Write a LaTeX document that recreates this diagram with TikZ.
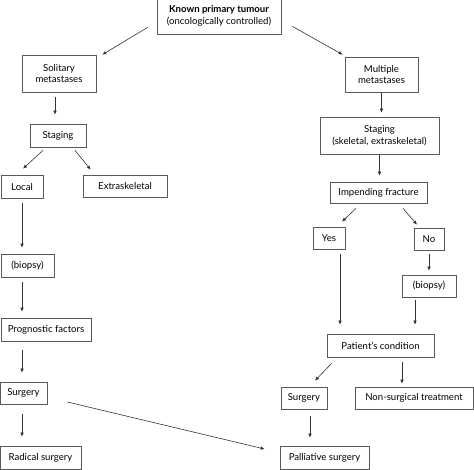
\documentclass[tikz,border=0pt]{standalone}
\usepackage{fontspec}
\setmainfont{Lato}
\usetikzlibrary{arrows.meta}

\begin{document}
\begin{tikzpicture}[x=1pt, y=-1pt,
    box/.style={draw=black!65, line width=0.7pt, align=center, inner sep=0pt, font=\fontsize{9.6}{11.5}\selectfont},
    arr/.style={-{Latex[length=4pt, width=3.6pt]}, line width=0.6pt, draw=black!80, shorten <=5pt, shorten >=6pt},
    slant/.style={arr, shorten <=0pt, shorten >=0pt}
]
\useasboundingbox (0,0) rectangle (474,469);
% top
\node[box, minimum width=124pt, minimum height=36pt] (known) at (219,16) {\textbf{Known primary tumour}\\(oncologically controlled)};
% solitary branch
\node[box, minimum width=74pt, minimum height=37pt] (sol) at (59,73.5) {Solitary\\metastases};
\node[box, minimum width=56pt, minimum height=23pt] (stagL) at (58,135.5) {Staging};
\node[box, minimum width=42pt, minimum height=23pt] (local) at (22,186.5) {Local};
\node[box, minimum width=84pt, minimum height=22pt] (extra) at (125,186) {Extraskeletal};
\node[box, minimum width=53pt, minimum height=23pt] (biopL) at (27.5,265.5) {(biopsy)};
\node[box, minimum width=90pt, minimum height=23pt] (prog) at (46,329.5) {Prognostic factors};
\node[box, minimum width=47pt, minimum height=22pt] (surgL) at (23.5,393) {Surgery};
\node[box, minimum width=81pt, minimum height=23pt] (rad) at (40.5,457.5) {Radical surgery};
% multiple branch
\node[box, minimum width=73pt, minimum height=35pt] (mult) at (381.5,74.5) {Multiple\\metastases};
\node[box, minimum width=119pt, minimum height=37pt] (stagR) at (379.5,135.5) {Staging\\(skeletal, extraskeletal)};
\node[box, minimum width=97pt, minimum height=21pt] (imp) at (378.5,192.5) {Impending fracture};
\node[box, minimum width=32pt, minimum height=22pt] (yes) at (329,238) {Yes};
\node[box, minimum width=30pt, minimum height=22pt] (no) at (429,239) {No};
\node[box, minimum width=54pt, minimum height=22pt] (biopR) at (429,286) {(biopsy)};
\node[box, minimum width=107pt, minimum height=23pt] (pat) at (380.5,345.5) {Patient’s condition};
\node[box, minimum width=46pt, minimum height=22pt] (surgR) at (304,398) {Surgery};
\node[box, minimum width=118pt, minimum height=22pt] (nonsurg) at (414,398) {Non-surgical treatment};
\node[box, minimum width=89pt, minimum height=23pt] (pall) at (324.5,457.5) {Palliative surgery};

\draw[slant] ([xshift=-9pt, yshift=7pt]known.south west) -- ([xshift=6pt]sol.north east);
\draw[slant] ([xshift=11pt, yshift=8pt]known.south east) -- ([xshift=-2pt, yshift=2pt]mult.north west);

\draw[arr, shorten >=9pt] ([xshift=-4pt]sol.south) -- ([xshift=-4pt]sol.south |- stagL.north);
\draw[slant] ([xshift=-15pt, yshift=-3pt]stagL.south) -- ([xshift=1pt, yshift=6pt]local.north);
\draw[slant] ([xshift=17pt, yshift=-3pt]stagL.south) -- ([xshift=8pt, yshift=5pt]extra.north west);
\draw[arr] (local) -- (biopL.north -| local);
\draw[arr] (biopL.south -| local) -- (prog.north -| local);
\draw[arr, shorten <=9pt, shorten >=9pt] (prog.south -| local) -- (surgL.north -| local);
\draw[arr, shorten <=10pt, shorten >=9pt] (surgL.south -| local) -- (rad.north -| local);
\draw[slant] ([xshift=20pt, yshift=-9pt]surgL.east) -- ([xshift=-15pt, yshift=8.5pt]pall.west);

\draw[arr, shorten <=1pt, shorten >=4pt] (mult) -- (mult.south |- stagR.north);
\draw[arr, shorten <=1pt] (stagR) -- (stagR.south |- imp.north);
\draw[slant] ([xshift=-22.5pt, yshift=-5pt]imp.south) -- ([xshift=13pt, yshift=5pt]yes.north);
\draw[slant] ([xshift=24.5pt, yshift=-5pt]imp.south) -- ([xshift=-12pt, yshift=3pt]no.north);
\draw[arr, shorten <=4pt, shorten >=4pt] (no) -- (biopR);
\draw[arr, shorten >=9pt] ([xshift=11pt]yes.south) -- ([xshift=11pt]yes.south |- pat.north);
\draw[arr, shorten <=3pt, shorten >=9pt] ([xshift=-14pt]biopR.south) -- ([xshift=-14pt]biopR.south |- pat.north);
\draw[slant] ([xshift=5pt, yshift=-6pt]pat.south west) -- ([xshift=11pt, yshift=6pt]surgR.north);
\draw[arr, shorten >=3pt] ([xshift=-12pt]nonsurg.north |- pat.south) -- ([xshift=-12pt]nonsurg.north);
\draw[arr, shorten <=7pt, shorten >=8pt] ([xshift=6pt]surgR.south) -- ([xshift=6pt]surgR.south |- pall.north);
\end{tikzpicture}
\end{document}
